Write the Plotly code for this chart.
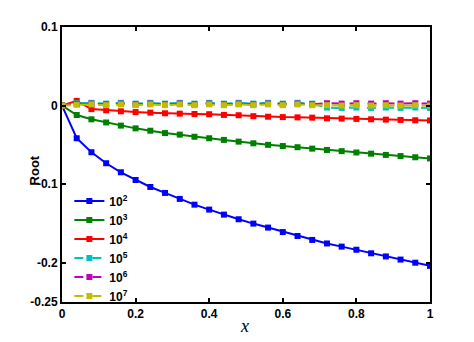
import plotly.graph_objects as go

# Sample positions along x
x = [round(0.04 * i, 2) for i in range(26)]

# Root values for each parameter value
root_1e2 = [0.0, -0.0416, -0.0594, -0.0734, -0.0849, -0.0947, -0.1036, -0.1112,
            -0.1188, -0.1261, -0.1324, -0.1388, -0.1447, -0.1502, -0.1553, -0.1610,
            -0.1660, -0.1710, -0.1755, -0.1795, -0.1835, -0.1880, -0.1920, -0.1960,
            -0.2000, -0.2040]
root_1e3 = [0.0, -0.0120, -0.0175, -0.0215, -0.0255, -0.0290, -0.0320, -0.0350,
            -0.0370, -0.0397, -0.0416, -0.0437, -0.0459, -0.0480, -0.0500, -0.0515,
            -0.0530, -0.0548, -0.0565, -0.0580, -0.0597, -0.0612, -0.0628, -0.0643,
            -0.0658, -0.0673]
root_1e4 = [0.0, 0.0060, -0.0045, -0.0060, -0.0073, -0.0083, -0.0090, -0.0098,
            -0.0103, -0.0107, -0.0110, -0.0119, -0.0123, -0.0135, -0.0142, -0.0147,
            -0.0150, -0.0154, -0.0162, -0.0166, -0.0170, -0.0175, -0.0179, -0.0183,
            -0.0187, -0.0190]
root_1e5 = [0.0, 0.0030, 0.0035, 0.0025, 0.0035, 0.0025, 0.0035, 0.0025,
            0.0035, 0.0025, 0.0035, 0.0025, 0.0035, 0.0025, 0.0035, 0.0025,
            0.0035, 0.0025, -0.0025, -0.0030, -0.0025, -0.0030, -0.0025, -0.0030,
            -0.0025, -0.0030]
root_1e6 = [0.0, 0.0020, 0.0025, 0.0015, 0.0025, 0.0015, 0.0025, 0.0015,
            0.0025, 0.0015, 0.0025, 0.0015, 0.0025, 0.0015, 0.0025, 0.0015,
            0.0025, 0.0015, 0.0030, 0.0025, 0.0030, 0.0025, 0.0030, 0.0025,
            0.0030, 0.0025]
root_1e7 = [0.0, 0.0010, 0.0015, 0.0005, 0.0015, 0.0005, 0.0015, 0.0005,
            0.0015, 0.0005, 0.0015, 0.0005, 0.0015, 0.0005, 0.0015, 0.0005,
            0.0015, 0.0005, 0.0005, 0.0000, 0.0005, 0.0000, 0.0005, 0.0000,
            0.0005, 0.0000]

labels = ["10<sup>2</sup>", "10<sup>3</sup>", "10<sup>4</sup>",
          "10<sup>5</sup>", "10<sup>6</sup>", "10<sup>7</sup>"]
colors = ["#0000ff", "#008000", "#ff0000", "#00bfbf", "#bf00bf", "#bfbf00"]
dashes = ["solid", "solid", "solid", "dash", "dash", "dash"]
series = [root_1e2, root_1e3, root_1e4, root_1e5, root_1e6, root_1e7]

xticks = [0, 0.2, 0.4, 0.6, 0.8, 1]
xticktext = ["0", "0.2", "0.4", "0.6", "0.8", "1"]
yticks = [0.1, 0, -0.1, -0.2, -0.25]
yticktext = ["0.1", "0", "-0.1", "-0.2", "-0.25"]

fig = go.Figure()
for name, col, dsh, ys in zip(labels, colors, dashes, series):
    fig.add_trace(go.Scatter(
        x=x, y=ys, name=name, mode="lines+markers",
        line=dict(color=col, width=2, dash=dsh),
        marker=dict(symbol="square", size=6, color=col),
    ))

axis_common = dict(
    showline=True, linecolor="black", linewidth=2, mirror="ticks",
    ticks="inside", ticklen=4, tickwidth=1.5, tickcolor="black",
    showgrid=False, zeroline=False,
    tickfont=dict(family="Liberation Sans", size=12, color="black", weight="bold"),
)

fig.update_layout(
    width=474, height=342,
    margin=dict(l=62, r=44, t=27, b=40),
    paper_bgcolor="white", plot_bgcolor="white",
    xaxis=dict(range=[0, 1], tickvals=xticks, ticktext=xticktext, **axis_common),
    yaxis=dict(range=[-0.25, 0.1], tickvals=yticks, ticktext=yticktext, **axis_common),
    legend=dict(
        x=0.02, y=0.42, xanchor="left", yanchor="top",
        bgcolor="rgba(0,0,0,0)", borderwidth=0,
        font=dict(family="Liberation Sans", size=12, color="black", weight="bold"),
        itemwidth=30, tracegroupgap=0,
    ),
    showlegend=True,
    annotations=[
        dict(text="Root", xref="paper", yref="paper", x=-0.075, y=0.48,
             xanchor="center", yanchor="middle", textangle=-90, showarrow=False,
             font=dict(family="Liberation Sans", size=13, color="black", weight="bold")),
        dict(text="<i>x</i>", xref="paper", yref="paper", x=0.495, y=-0.045,
             xanchor="center", yanchor="top", showarrow=False,
             font=dict(family="Liberation Serif", size=18, color="black")),
    ],
)

fig.write_html("out.html")
